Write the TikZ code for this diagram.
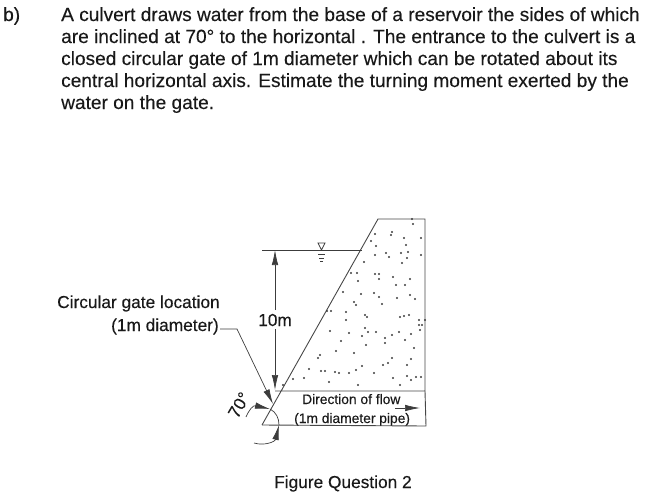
\documentclass[tikz,border=0pt]{standalone}
\usepackage{fontspec}
\setmainfont[FakeBold=0.25]{Liberation Sans}
\usetikzlibrary{arrows.meta}
\definecolor{ink}{gray}{0.10}
\tikzset{
 x=1pt,y=-1pt,
 para/.style={anchor=base west,inner sep=0pt,font=\fontsize{19.1}{22}\selectfont,text=ink},
 lab/.style={anchor=base west,inner sep=0pt,font=\fontsize{17.3}{20}\selectfont,text=ink},
 small/.style={anchor=base west,inner sep=0pt,font=\fontsize{13.8}{16}\selectfont,text=ink},
 lnk/.style={draw=ink!85,line width=0.7pt},
 wall/.style={draw=ink!80,line width=0.9pt},
 tip/.style={-{Latex[length=15pt,width=6.5pt]}},
 dot/.style={fill=ink!85,draw=none}
}
\begin{document}
\begin{tikzpicture}
\useasboundingbox (0,0) rectangle (645,498);
\node[para] (b) at (3,21) {b)};
\node[para] (l1) at (61,21) {A culvert draws water from the base of a reservoir the sides of which};
\node[para] (l2) at (61,43) {are inclined at 70° to the horizontal . The entrance to the culvert is a};
\node[para] (l3) at (61,65) {closed circular gate of 1m diameter which can be rotated about its};
\node[para] (l4) at (61,87) {central horizontal axis. Estimate the turning moment exerted by the};
\node[para] (l5) at (61,109) {water on the gate.};
\node[lab] (g1) at (57,308) {Circular gate location};
\node[lab,anchor=base east] (g2) at (219,331) {(1m diameter)};
\node[lab] (h) at (258,326) {10m};
\node[lab,rotate=60,anchor=center,inner sep=0pt] (a) at (239,405) {70°};
\node[small] (f1) at (302,404) {Direction of flow};
\node[small] (f2) at (294,423) {(1m diameter pipe)};
\node[lab] (q) at (274,488) {Figure Question 2};
% dam
\draw[wall] (262,425) -- (378,219) -- (425,219) -- (425,391) -- (275,391);
\draw[wall] (425,391) -- (426,426) -- (262,425);
% water level
\draw[lnk] (262,250) -- (362,250);
\draw[lnk] (318,243) -- (325,243) -- (321.5,250) -- cycle;
\draw[lnk] (318,254) -- (325,254) (319,258) -- (324,258) (320,261) -- (323,261);
% dimension
\draw[lnk,tip] (275,310) -- (275,250);
\draw[lnk,tip] (275,329) -- (275,390);
% leader
\coordinate (ls) at (220,329);
\coordinate (lm) at (237,329);
\coordinate (lt) at (273,404);
\draw[lnk,tip] (ls) -- (lm) -- (lt);
% angle
\draw[lnk,tip] (246,417) .. controls (249,410) and (253,405) .. (270,409);
\draw[lnk] (270,409) .. controls (276,412) and (279,418) .. (279,425);
\draw[lnk,tip] (254,443) .. controls (264,446) and (275,442) .. (279,425);
% flow arrow
\draw[lnk,tip] (395,408) -- (420,408);
% concrete dots
\foreach \x/\y in {371/241, 375/234, 391/235, 392/232, 404/238, 406/245, 412/219, 413/224, 421/238, 421/255, 376/246, 375/255, 386/253, 389/257, 401/253, 402/263, 408/252, 407/258, 364/262, 351/273, 357/273, 358/281, 375/274, 379/274, 379/279, 393/277, 396/285, 405/285, 410/279, 343/292, 361/294, 374/293, 379/297, 397/298, 410/295, 415/299, 354/302, 356/305, 346/312, 331/311, 327/311, 346/320, 365/315, 367/317, 365/328, 382/304, 400/317, 404/316, 409/315, 419/320, 419/325, 330/331, 349/333, 362/336, 368/332, 376/332, 392/335, 399/332, 405/340, 420/330, 341/341, 318/358, 336/351, 354/353, 366/345, 385/338, 385/343, 411/334, 414/348, 422/325, 309/369, 321/371, 325/371, 304/378, 335/372, 339/373, 349/373, 356/370, 362/366, 374/373, 383/365, 388/363, 393/378, 411/359, 407/365, 407/376, 411/380, 416/377, 421/377, 392/358, 358/385, 283/385, 293/379, 329/382, 400/385, 320/355, 425/320} {
  \fill[dot] (\x,\y) circle (1.1pt);
}
\end{tikzpicture}
\end{document}
